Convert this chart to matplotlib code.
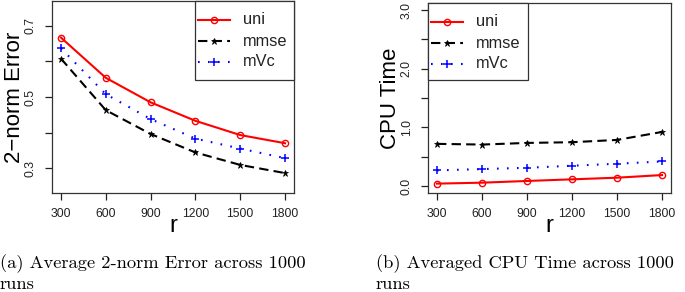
import matplotlib
matplotlib.use('Agg')
import matplotlib.pyplot as plt
from matplotlib.lines import Line2D
from matplotlib.patches import Rectangle

r_vals = [300, 600, 900, 1200, 1500, 1800]

# (a) average 2-norm error
err_uni = [0.667, 0.554, 0.485, 0.433, 0.393, 0.370]
err_mmse = [0.608, 0.463, 0.396, 0.344, 0.309, 0.286]
err_mvc = [0.637, 0.508, 0.438, 0.383, 0.355, 0.328]

# (b) averaged CPU time
cpu_uni = [0.040, 0.056, 0.085, 0.113, 0.141, 0.186]
cpu_mmse = [0.718, 0.706, 0.734, 0.746, 0.785, 0.921]
cpu_mvc = [0.266, 0.288, 0.310, 0.345, 0.379, 0.418]

names = ['uni', 'mmse', 'mVc']
captions = [('(a) Average 2-norm Error across 1000', 'runs'),
            ('(b) Averaged CPU Time across 1000', 'runs')]

plt.rcParams['font.family'] = ['Liberation Sans', 'DejaVu Sans']

W, H = 685, 292
fig = plt.figure(figsize=(W / 100, H / 100), dpi=100)

styles = [
    dict(color='red', lw=1.5, marker='o', ms=4.5, mfc='none', mew=1.0),
    dict(color='black', lw=1.5, ls=(0, (4.5, 2.5)), marker='*', ms=4.5, mew=0.5),
    dict(color='blue', lw=1.5, ls=(0, (0.8, 4.0)), marker='+', ms=5.5, mew=1.1),
]


def fx(x):
    return x / W


def fy(y):
    return 1 - y / H


def px_axes(x0, y0, x1, y1):
    return fig.add_axes([fx(x0), fy(y1), (x1 - x0) / W, (y1 - y0) / H])


def draw(ax, series):
    for vals, name, st in zip(series, names, styles):
        ax.plot(r_vals, vals, label=name, **st)
    ax.set_xlim(240, 1860)
    ax.set_xticks(r_vals)
    ax.tick_params(axis='both', direction='out', length=5, width=0.9,
                   labelsize=8.8, colors='#222222')
    ax.tick_params(axis='x', pad=5.5)
    ax.tick_params(axis='y', pad=6)
    for s in ax.spines.values():
        s.set_linewidth(0.9)
        s.set_color('#333333')
    ax.set_xlabel('r', fontsize=17, labelpad=-3)


def legend_box(x0, y0, x1, y1):
    # R-style legend box drawn in figure pixels
    fig.add_artist(Rectangle((fx(x0), fy(y1)), (x1 - x0) / W, (y1 - y0) / H,
                             transform=fig.transFigure, facecolor='white',
                             edgecolor='#333333', lw=0.9, zorder=5))
    rows = [y0 + 19, y0 + 40, y0 + 61]
    for yy, name, st in zip(rows, names, styles):
        fig.add_artist(Line2D([fx(x0 + 3), fx(x0 + 19), fx(x0 + 35)],
                              [fy(yy)] * 3, transform=fig.transFigure,
                              markevery=[1], zorder=6, **st))
        fig.text(fx(x0 + 48), fy(yy), name, fontsize=11.8, va='center',
                 ha='left', color='#222222', zorder=6)


# panel (a)
ax1 = px_axes(52, 1, 294, 193)
draw(ax1, [err_uni, err_mmse, err_mvc])
ax1.set_ylim(0.23, 0.77)
ax1.set_yticks([0.3, 0.4, 0.5, 0.6, 0.7])
ax1.set_yticklabels(['0.3', '', '0.5', '', '0.7'], rotation=90, va='center')
ax1.set_ylabel('2\u2212norm Error', fontsize=16, labelpad=0)
legend_box(195, 1, 294, 80)

# panel (b)
ax2 = px_axes(428, 3, 671, 193)
draw(ax2, [cpu_uni, cpu_mmse, cpu_mvc])
ax2.set_ylim(-0.12, 3.12)
ax2.set_yticks([0, 0.5, 1.0, 1.5, 2.0, 2.5, 3.0])
ax2.set_yticklabels(['0.0', '', '1.0', '', '2.0', '', '3.0'], rotation=90, va='center')
ax2.set_ylabel('CPU Time', fontsize=16, labelpad=0)
legend_box(428, 3, 528, 80)

# captions
for x0, (l1, l2) in zip([0, 376], captions):
    fig.text(fx(x0), fy(268), l1, family='cmr10', fontsize=13.3, va='baseline', ha='left')
    fig.text(fx(x0), fy(289), l2, family='cmr10', fontsize=13.3, va='baseline', ha='left')

fig.savefig('out.png', dpi=100)
